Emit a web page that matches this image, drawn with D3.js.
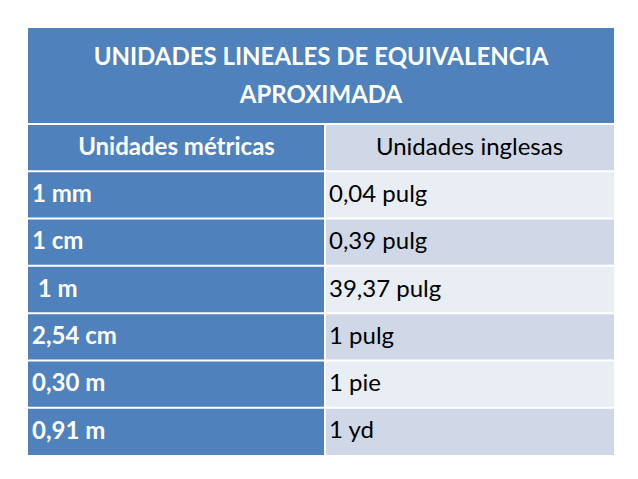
<!DOCTYPE html>
<meta charset="utf-8">
<html>
<head>
<script src="https://cdn.jsdelivr.net/npm/d3@7"></script>
<style>
body { margin:0; background:#fff; }
text { font-family: Lato, "Open Sans", sans-serif; }
</style>
</head>
<body>
<svg id=mySVG width=638 height=479></svg>
<script>
var title=["UNIDADES LINEALES DE EQUIVALENCIA","APROXIMADA"]
var headers=["Unidades métricas","Unidades inglesas"]
var metric=["1 mm","1 cm"," 1 m","2,54 cm","0,30 m","0,91 m"]
var english=["0,04 pulg","0,39 pulg","39,37 pulg","1 pulg","1 pie","1 yd"]

var blue="#4F81BD", light="#E9EDF4", mid="#D0D8E8"
var left=28, right=614, split=325
var svg=d3.select("#mySVG")

//---title---
svg.append("rect").attr("x",left).attr("y",28).attr("width",right-left).attr("height",96).attr("fill",blue)
svg.selectAll("text.title").data(title).enter().append("text")
 .attr("class","title")
 .attr("x",(left+right)/2)
 .attr("y",function(d,i){return 59+i*38})
 .attr("text-anchor","middle").attr("dominant-baseline","middle")
 .attr("fill","white").attr("font-weight","bold").attr("font-size",24)
 .text(function(d){return d})

//---rows---
var rows=["h"].concat(metric)
var y=d3.scaleBand().domain(d3.range(rows.length)).range([124,455])

var g=svg.selectAll("g.row").data(rows).enter().append("g").attr("class","row")
g.append("rect").attr("x",left).attr("y",function(d,i){return y(i)})
 .attr("width",split-left).attr("height",y.bandwidth()).attr("fill",blue)
g.append("rect").attr("x",split).attr("y",function(d,i){return y(i)})
 .attr("width",right-split).attr("height",y.bandwidth())
 .attr("fill",function(d,i){return i%2==0?mid:light})

g.append("text")
 .attr("x",function(d,i){return i==0?(left+split)/2:left+4})
 .attr("y",function(d,i){return y(i)+y.bandwidth()/2+1})
 .attr("text-anchor",function(d,i){return i==0?"middle":"start"})
 .attr("dominant-baseline","middle").attr("xml:space","preserve")
 .attr("fill","white").attr("font-weight","bold").attr("font-size",24)
 .text(function(d,i){return i==0?headers[0]:metric[i-1]})

g.append("text")
 .attr("x",function(d,i){return i==0?(split+right)/2:split+4})
 .attr("y",function(d,i){return y(i)+y.bandwidth()/2+1})
 .attr("text-anchor",function(d,i){return i==0?"middle":"start"})
 .attr("dominant-baseline","middle")
 .attr("fill","black").attr("font-size",24)
 .text(function(d,i){return i==0?headers[1]:english[i-1]})

//---white grid lines---
svg.selectAll("line.h").data(d3.range(rows.length)).enter().append("line")
 .attr("x1",left).attr("x2",right)
 .attr("y1",function(i){return y(i)}).attr("y2",function(i){return y(i)})
 .attr("stroke","white").attr("stroke-width",2)
svg.append("line").attr("x1",split).attr("x2",split).attr("y1",124).attr("y2",455)
 .attr("stroke","white").attr("stroke-width",2)
</script>
</body>
</html>
